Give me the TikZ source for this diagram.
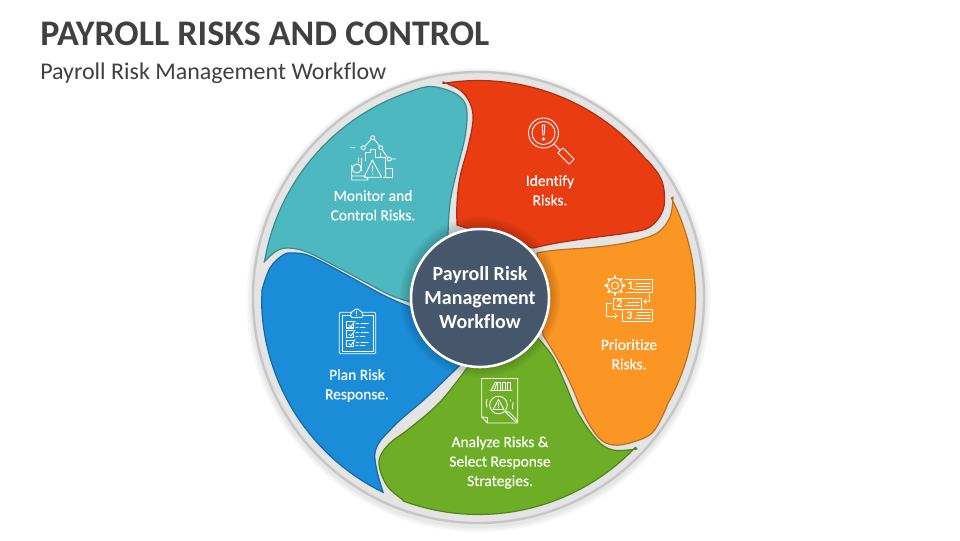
\documentclass[tikz,border=0pt]{standalone}
\usepackage{fontspec}
\setmainfont[Ligatures=NoCommon]{Carlito}
\newfontfamily\labelfont[Ligatures=NoCommon,FakeBold=.35]{Carlito}
\definecolor{TitleClr}{RGB}{64,64,64}
\definecolor{RingClr}{RGB}{228,228,228}
\definecolor{RimClr}{RGB}{198,198,198}
\definecolor{HubClr}{RGB}{70,86,107}
\definecolor{TealClr}{RGB}{77,184,192}
\definecolor{RedClr}{RGB}{233,60,19}
\definecolor{OrangeClr}{RGB}{251,149,36}
\definecolor{GreenClr}{RGB}{109,174,38}
\definecolor{BlueClr}{RGB}{26,140,216}
\tikzset{
  petal/.style={line width=.9pt,line join=round},
  label/.style={text=white,align=center,font=\labelfont\fontsize{11.6}{14.6}\selectfont,inner sep=0pt},
  icon/.style={draw=white,line width=.65pt,line join=round,line cap=round},
  num/.style={text=white,font=\bfseries\fontsize{9}{9}\selectfont,inner sep=0pt}
}
% one petal: colour, rim angles, edge before the hub, edge after it
\newcommand{\petal}[5]{%
  \draw[petal,fill=#1,draw=#1!75!black]
    plot[domain=#2:#3,samples=30] ({478.5+217*cos(\x)},{297.5+217*sin(\x)})
    -- plot[smooth,tension=.6] coordinates {#4}
    -- plot[smooth,tension=.6] coordinates {#5} -- cycle;}
\begin{document}
\begin{tikzpicture}[x=.75pt,y=-.75pt]
\useasboundingbox (0,0) rectangle (960,540);
\fill[white] (0,0) rectangle (960,540);

\node[anchor=west,inner sep=0pt,text=TitleClr,font=\bfseries\fontsize{27}{30}\selectfont] (title) at (40,34) {PAYROLL RISKS AND CONTROL};
\node[anchor=west,inner sep=0pt,text=TitleClr,font=\fontsize{18}{20}\selectfont] (subtitle) at (40,73.5) {Payroll Risk Management Workflow};

% ring
\foreach \r in {232,230,228}
  \fill[black,opacity=.03] (478.5,300) circle[radius=\r];
\draw[fill=RingClr,draw=RimClr,line width=1.8pt] (478.5,297.5) circle[radius=225.5];

% petals
\petal{TealClr}{189.4}{252}{(411.5,91) (430,86.5) (450,91) (463,100) (467,113) (465,137) (457,170) (450,203) (448,235)}{(410,302) (390,295) (367,283) (337,267) (307,252) (287,248) (275,252) (264,262)}
\petal{RedClr}{260.6}{320.8}{(647,160) (659,175) (664,190) (663,210) (650,227) (627,233) (590,238) (557,243) (533,248)}{(457,225) (457,203) (460,177) (468,147) (473,120) (470,103) (460,90) (443,82)}
\petal{OrangeClr}{-27.3}{30}{(667,406) (653,432) (633,442) (613,445) (598,437) (583,413) (572,387) (560,363) (543,335)}{(537,253) (557,250) (597,247) (630,242) (657,233) (670,217) (673,197)}
\petal{GreenClr}{43.7}{110.4}{(403,500) (388,487) (380,470) (380,457) (390,443) (410,428) (440,402) (467,368)}{(538,338) (553,357) (565,383) (578,413) (597,440) (613,450) (637,449)}
\petal{BlueClr}{116}{178}{(262,290) (270,268) (283,255) (293,253) (310,256) (343,273) (383,295) (410,307)}{(460,365) (427,397) (393,427) (375,453) (383,492)}

% hub
\foreach \r in {80,78,76,74,72}
  \fill[black,opacity=.035] (480,297) circle[radius=\r];
\node[circle,fill=HubClr,draw=white,line width=1.9pt,minimum size=103.5pt,inner sep=0pt,text=white,align=center,font=\bfseries\fontsize{15}{18}\selectfont] (hub) at (480,298) {Payroll Risk\\Management\\Workflow};

% labels
\node[label] (monitor) at (373,205.3) {Monitor and\\Control Risks.};
\node[label] (identify) at (550,190.3) {Identify\\Risks.};
\node[label] (prioritize) at (629,354.3) {Prioritize\\Risks.};
\node[label] (analyze) at (500,462.5) {Analyze Risks \&\\Select Response\\Strategies.};
\node[label] (plan) at (357,385.5) {Plan Risk\\Response.};

% magnifier
\draw[icon] (543.5,133) circle[radius=15] (543.5,133) circle[radius=11.5];
\draw[icon] (554,144) -- (560,150);
\draw[icon,rotate around={-45:(566,156)}] (558,152.5) rectangle (574,159.5);
\draw[icon] (542.3,125) -- (544.7,125) -- (544.2,135) -- (542.8,135) -- cycle;
\draw[icon] (543.5,139) circle[radius=1.2];

% numbered steps
\draw[icon] (615,285.5) circle[radius=3.6] (615,285.5) circle[radius=7.5];
\foreach \a in {0,45,...,315}
  \draw[icon,line width=1.6pt] (615,285.5) ++(\a:7.5) -- ++(\a:2);
\draw[icon] (625,279.5) -- (652.5,279.5) -- (652.5,292.5) -- (626,292.5);
\draw[icon] (613.5,298.5) rectangle (641.5,309.5);
\draw[icon] (622.5,309.5) rectangle (652.5,321.5);
\node[num] (numa) at (630.5,286) {1};
\node[num] (numb) at (619.5,304) {2};
\node[num] (numc) at (629.5,315.5) {3};
\foreach \y/\xa/\xb in {283/636/650,286/636/650,289.5/634/650,302/628/639,305.5/625/639,312.5/637/650,315.5/637/650,318.5/635/650}
  \draw[icon] (\xa,\y) -- (\xb,\y);
\draw[icon,-to] (649,294.5) -- (649,301.5) -- (643.5,301.5);
\draw[icon,-to] (611.5,303) -- (606.5,303) -- (606.5,316) -- (617.5,316);

% chart and warning
\draw[icon] (350,147.7) -- (355,147.7) (360.8,147.7) -- (361.3,147.7) (365.2,146) -- (371,139.5) (374.5,139.5) -- (379.5,145.8) (382,149.5) -- (387.5,157.5) (391.5,159) -- (395.7,159);
\foreach \x/\y in {363.3/147.7,372.7/137.7,380.7/147.7,389.3/159}
  \draw[icon] (\x,\y) circle[radius=2];
\draw[icon] (365,161) -- (365,152.7) -- (370,152.7) -- (370,149) -- (375,149) -- (375,157.5) -- (385,157.5) -- (385,168.3) -- (392.7,168.3) -- (392.7,177.3) -- (383.5,177.3);
\draw[icon] (380,153) -- (380,157.5) (385,168.3) -- (385,177.3);
\draw[icon] (372.3,160) -- (364,177.3) -- (381.7,177.3) -- cycle;
\draw[icon] (372.3,166) -- (372.3,171.5) (372.3,174) -- (372.3,174.6);
\draw[icon] (356.7,168.5) circle[radius=4.5];
\draw[icon] (351.7,165) -- (351.7,180) (351.7,176) -- (364,176) -- (368,179) (351.7,180) -- (368,180);
\draw[icon] (358,158) -- (358,163) (361,158) -- (361,171);

% report and lens
\draw[icon] (487.5,423) -- (517.7,423) -- (517.7,378.5) -- (481.7,378.5) -- (481.7,417) -- (487.5,423) -- (487.5,417.5) -- (481.7,417);
\draw[icon] (490,390.7) -- (512,390.7);
\draw[icon] (491,390.7) -- (495,382.5) -- (497,382.5) -- (494,390.7);
\foreach \x in {499,504,509}
  \draw[icon] (\x-1.5,390.7) -- (\x-1.5,382.5) -- (\x+1.5,382.5) -- (\x+1.5,390.7);
\draw[icon] (498.5,405) circle[radius=8.8];
\draw[icon] (498.5,399.5) -- (493,409.5) -- (504,409.5) -- cycle;
\draw[icon] (498.5,403) -- (498.5,406) (498.5,407.6) -- (498.5,408);
\draw[icon] (505,411.5) -- (507.5,414) -- (516,422) -- (517,420) -- (509,412) -- (505,411.5);
\draw[icon] (487,399) arc[start angle=200,end angle=160,radius=12];
\draw[icon] (510.5,400) -- (510.5,401) (513,402.5) -- (512.5,409);

% checklist
\draw[icon,rounded corners=.8pt] (351,312.3) -- (339.3,312.3) -- (339.3,353.7) -- (375.7,353.7) -- (375.7,312.3) -- (362.5,312.3);
\draw[icon] (351,315) -- (342,315) -- (342,351) -- (373,351) -- (373,315) -- (362.5,315);
\draw[icon,rounded corners=1pt] (350.5,317.5) -- (351,312.5) -- (356.7,308.3) -- (362.5,312.5) -- (363,317.5) -- cycle;
\draw[icon] (356.7,311) -- (356.7,313.5) (356.7,315.2) -- (356.7,315.6);
\foreach \y in {325,334.3,343.7}{
  \draw[icon,line width=.8pt] (353,\y-3.5) -- (346.7,\y-3.5) -- (346.7,\y+3) -- (353.3,\y+3) -- (353.3,\y-.5);
  \draw[icon] (349,\y) -- (351,\y+1.5) -- (355,\y-4);
  \draw[icon] (356,\y-1.5) -- (359,\y-1.5) (361,\y-1.5) -- (368.3,\y-1.5) (356,\y+2) -- (358,\y+2) (360,\y+2) -- (365,\y+2);
}
\end{tikzpicture}
\end{document}
